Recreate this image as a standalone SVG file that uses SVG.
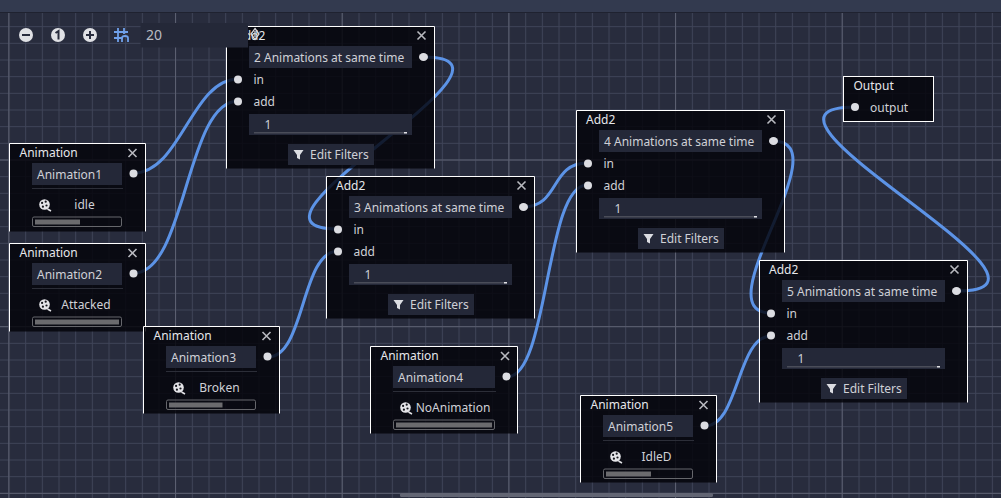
<svg xmlns="http://www.w3.org/2000/svg" xmlns:xlink="http://www.w3.org/1999/xlink" width="1001" height="498" viewBox="0 0 1001 498">
<style>
text{font-family:"Noto Sans","DejaVu Sans",sans-serif;font-size:12px;fill:#cfd0d6}
.panel{fill:#030308;fill-opacity:.82}
.edge{fill:none;stroke:#fff;stroke-width:1}
.field{fill:#242838}
.title{fill:#e6e6ea}
.port{fill:#dcdde2}
.wire{fill:none;stroke:#5c93e6;stroke-width:3;stroke-linecap:round}
.sep{stroke:#2c2e38;stroke-width:1}
.track{fill:none;stroke:#66676c;stroke-width:1}
.prog{fill:#6b6b6e}
.bar{fill:#4a4d59}
.tick{fill:#e0e0e4}
.tool{fill:#e0e1e5}
</style>
<defs>
<pattern id="minor" width="16.667" height="16.667" patternUnits="userSpaceOnUse" x="8.5" y="9.5">
<path d="M0.5,0V16.667M0,0.5H16.667" fill="none" stroke="#3f4458" stroke-width="1"/>
</pattern>
<pattern id="major" width="166.67" height="166.67" patternUnits="userSpaceOnUse" x="175" y="159.5">
<path d="M0.5,0V166.67M0,0.5H166.67" fill="none" stroke="#5b5f70" stroke-width="1"/>
</pattern>
<path id="close" d="M-4,-4L4,4M4,-4L-4,4" fill="none" stroke="#b9bac0" stroke-width="1.6"/>
<path id="funnel" d="M-5,-4.5H5L1.5,0.5V5L-1.5,3.5V0.500Z" fill="#dcdde2"/>
<g id="reel">
<circle r="5.3" fill="#e4e4e8"/>
<circle cx="-2.4" cy="-1.6" r="1.1" fill="#14151b"/>
<circle cx="1.2" cy="-2.8" r="1.1" fill="#14151b"/>
<circle cx="-1.6" cy="2.2" r="1.1" fill="#14151b"/>
<circle cx="2" cy="1" r="1.1" fill="#14151b"/>
<path d="M3,4.5L6.5,6.5" stroke="#e4e4e8" stroke-width="1.5"/>
</g>
</defs>

<rect width="1001" height="498" fill="#282c3d"/>
<rect width="1001" height="498" fill="url(#minor)"/>
<rect width="1001" height="498" fill="url(#major)"/>
<rect width="1001" height="12" fill="#333a4f"/>
<rect y="12" width="1001" height="1" fill="#1f2230"/>

<g id="connectors">
<path class="wire" d="M134,173C180,173 192,79 238,79"/>
<path class="wire" d="M134,273C186,273 186,101 238,101"/>
<path class="wire" d="M424,57C550,57 212,229 338,229"/>
<path class="wire" d="M268,357C305,357 301,251 338,251"/>
<path class="wire" d="M523,207C560,207 550,163 587,163"/>
<path class="wire" d="M507,377C549,377 545,185 587,185"/>
<path class="wire" d="M773,141C843,141 701,313 771,313"/>
<path class="wire" d="M705,426C739,426 737,336 771,336"/>
<path class="wire" d="M957,291C1097,291 715,107 855,107"/>
</g>

<g id="add2-1" transform="translate(226.5,26.5)">
<rect class="panel" width="208" height="142"/><path class="edge" d="M0,142V0H208V142"/>
<text class="title" x="9.5" y="13">Add2</text><use href="#close" x="195" y="9"/>
<rect class="field" x="22.5" y="19.5" width="163" height="22"/><text x="27.5" y="35">2 Animations at same time</text>
<ellipse class="port" cx="197" cy="30.5" rx="4.500" ry="4"/>
<circle class="port" cx="11.5" cy="53" r="4"/><text x="27" y="57">in</text>
<circle class="port" cx="11.5" cy="75" r="4"/><text x="27" y="79">add</text>
<rect class="field" x="22.5" y="87.5" width="163" height="21"/><text x="38" y="102">1</text>
<rect class="bar" x="27.5" y="105.5" width="153" height="1.5"/><rect class="tick" x="177.5" y="105.5" width="3" height="1.5"/>
<rect class="field" x="61.5" y="117.5" width="86" height="21"/><use href="#funnel" x="72" y="128"/><text x="83.5" y="132">Edit Filters</text>
</g>

<g id="add2-3" transform="translate(326.5,176.5)">
<rect class="panel" width="208" height="142"/><path class="edge" d="M0,142V0H208V142"/>
<text class="title" x="9.5" y="13">Add2</text><use href="#close" x="195" y="9"/>
<rect class="field" x="22.5" y="19.5" width="163" height="22"/><text x="27.5" y="35">3 Animations at same time</text>
<ellipse class="port" cx="197" cy="30.5" rx="4.500" ry="4"/>
<circle class="port" cx="11.5" cy="53" r="4"/><text x="27" y="57">in</text>
<circle class="port" cx="11.5" cy="75" r="4"/><text x="27" y="79">add</text>
<rect class="field" x="22.5" y="87.5" width="163" height="21"/><text x="38" y="102">1</text>
<rect class="bar" x="27.5" y="105.5" width="153" height="1.5"/><rect class="tick" x="177.5" y="105.5" width="3" height="1.5"/>
<rect class="field" x="61.5" y="117.5" width="86" height="21"/><use href="#funnel" x="72" y="128"/><text x="83.5" y="132">Edit Filters</text>
</g>

<g id="add2-4" transform="translate(576.5,110.5)">
<rect class="panel" width="208" height="142"/><path class="edge" d="M0,142V0H208V142"/>
<text class="title" x="9.5" y="13">Add2</text><use href="#close" x="195" y="9"/>
<rect class="field" x="22.5" y="19.5" width="163" height="22"/><text x="27.5" y="35">4 Animations at same time</text>
<ellipse class="port" cx="197" cy="30.5" rx="4.500" ry="4"/>
<circle class="port" cx="11.5" cy="53" r="4"/><text x="27" y="57">in</text>
<circle class="port" cx="11.5" cy="75" r="4"/><text x="27" y="79">add</text>
<rect class="field" x="22.5" y="87.5" width="163" height="21"/><text x="38" y="102">1</text>
<rect class="bar" x="27.5" y="105.5" width="153" height="1.5"/><rect class="tick" x="177.5" y="105.5" width="3" height="1.5"/>
<rect class="field" x="61.5" y="117.5" width="86" height="21"/><use href="#funnel" x="72" y="128"/><text x="83.5" y="132">Edit Filters</text>
</g>

<g id="add2-5" transform="translate(759.5,260.5)">
<rect class="panel" width="208" height="142"/><path class="edge" d="M0,142V0H208V142"/>
<text class="title" x="9.5" y="13">Add2</text><use href="#close" x="195" y="9"/>
<rect class="field" x="22.5" y="19.5" width="163" height="22"/><text x="27.5" y="35">5 Animations at same time</text>
<ellipse class="port" cx="197" cy="30.5" rx="4.500" ry="4"/>
<circle class="port" cx="11.5" cy="53" r="4"/><text x="27" y="57">in</text>
<circle class="port" cx="11.5" cy="75" r="4"/><text x="27" y="79">add</text>
<rect class="field" x="22.5" y="87.5" width="163" height="21"/><text x="38" y="102">1</text>
<rect class="bar" x="27.5" y="105.5" width="153" height="1.5"/><rect class="tick" x="177.5" y="105.5" width="3" height="1.5"/>
<rect class="field" x="61.5" y="117.5" width="86" height="21"/><use href="#funnel" x="72" y="128"/><text x="83.5" y="132">Edit Filters</text>
</g>

<g id="animation-1" transform="translate(9.5,143.5)">
<rect class="panel" width="136" height="88"/><path class="edge" d="M0,88V0H136V88"/>
<text class="title" x="10" y="13">Animation</text><use href="#close" x="123" y="9.5"/>
<rect class="field" x="22.5" y="19.5" width="90" height="22"/><text x="27.5" y="35">Animation1</text>
<circle class="port" cx="124" cy="30" r="4"/>
<path class="sep" d="M22.5,45H113.5"/>
<use href="#reel" x="35" y="61"/><text x="75" y="65" text-anchor="middle">idle</text>
<rect class="track" x="23" y="73.5" width="89" height="9.5" rx="1.5"/><rect class="prog" x="25.5" y="76" width="45" height="5"/>
</g>

<g id="animation-2" transform="translate(9.5,243.5)">
<rect class="panel" width="136" height="88"/><path class="edge" d="M0,88V0H136V88"/>
<text class="title" x="10" y="13">Animation</text><use href="#close" x="123" y="9.5"/>
<rect class="field" x="22.5" y="19.5" width="90" height="22"/><text x="27.5" y="35">Animation2</text>
<circle class="port" cx="124" cy="30" r="4"/>
<path class="sep" d="M22.5,45H113.5"/>
<use href="#reel" x="35" y="61"/><text x="76.5" y="65" text-anchor="middle">Attacked</text>
<rect class="track" x="23" y="73.5" width="89" height="9.5" rx="1.5"/><rect class="prog" x="25.5" y="76" width="84" height="5"/>
</g>

<g id="animation-3" transform="translate(143.5,326.5)">
<rect class="panel" width="136" height="87"/><path class="edge" d="M0,87V0H136V87"/>
<text class="title" x="10" y="13">Animation</text><use href="#close" x="123" y="9.5"/>
<rect class="field" x="22.5" y="19.5" width="90" height="22"/><text x="27.5" y="35">Animation3</text>
<circle class="port" cx="124" cy="30" r="4"/>
<path class="sep" d="M22.5,45H113.5"/>
<use href="#reel" x="35" y="61"/><text x="76" y="65" text-anchor="middle">Broken</text>
<rect class="track" x="23" y="73.5" width="89" height="9.5" rx="1.5"/><rect class="prog" x="25.5" y="76" width="53.5" height="5"/>
</g>

<g id="animation-4" transform="translate(370.5,346.5)">
<rect class="panel" width="147" height="87"/><path class="edge" d="M0,87V0H147V87"/>
<text class="title" x="10" y="13">Animation</text><use href="#close" x="134.5" y="9.5"/>
<rect class="field" x="22.5" y="19.5" width="102" height="22"/><text x="27.5" y="35">Animation4</text>
<circle class="port" cx="136" cy="30" r="4"/>
<path class="sep" d="M22.5,45H125.5"/>
<use href="#reel" x="35" y="61"/><text x="82.5" y="65" text-anchor="middle">NoAnimation</text>
<rect class="track" x="23" y="73.5" width="101" height="9.5" rx="1.5"/><rect class="prog" x="25.5" y="76" width="96" height="5"/>
</g>

<g id="animation-5" transform="translate(580.5,395.5)">
<rect class="panel" width="136" height="87"/><path class="edge" d="M0,87V0H136V87"/>
<text class="title" x="10" y="13">Animation</text><use href="#close" x="123" y="9.5"/>
<rect class="field" x="22.5" y="19.5" width="90" height="22"/><text x="27.5" y="35">Animation5</text>
<circle class="port" cx="124" cy="30" r="4"/>
<path class="sep" d="M22.5,45H113.5"/>
<use href="#reel" x="35" y="61"/><text x="76" y="65" text-anchor="middle">IdleD</text>
<rect class="track" x="23" y="73.5" width="89" height="9.5" rx="1.5"/><rect class="prog" x="25.5" y="76" width="45" height="5"/>
</g>

<g id="output" transform="translate(843.5,76.5)">
<rect class="panel" width="90" height="45"/><rect class="edge" width="90" height="45"/>
<text class="title" x="10" y="13">Output</text>
<circle class="port" cx="11.5" cy="30.5" r="4"/><text x="26.5" y="35">output</text>
</g>

<g id="toolbar">
<circle class="tool" cx="26" cy="35" r="7"/><rect x="22" y="34" width="8" height="2" fill="#282c3d"/>
<circle class="tool" cx="58" cy="35" r="7"/><path d="M55.5,33L58.5,31V39.5" fill="none" stroke="#282c3d" stroke-width="2"/>
<circle class="tool" cx="90" cy="35" r="7"/><path d="M86,35H94M90,31V39" fill="none" stroke="#282c3d" stroke-width="2"/>
<path d="M114,32H128M114,38H123M118,28V42M124,28V34M122,42V38Q122,36 125,36Q128,36 128,38V42" fill="none" stroke="#6fa0ea" stroke-width="1.8"/>
<rect x="140.5" y="23" width="107.500" height="24.500" fill="#242838"/>
<text x="146" y="40" style="font-size:14px;fill:#b9bbc3">20</text>
<path d="M255,28.500L259,34L255,39.500L251,34Z M255,31V37" fill="none" stroke="#d8d8dc" stroke-width="1.300"/>
</g>

<rect id="scrollbar" x="400" y="493" width="313" height="4" rx="1.500" fill="#626573"/>
</svg>
